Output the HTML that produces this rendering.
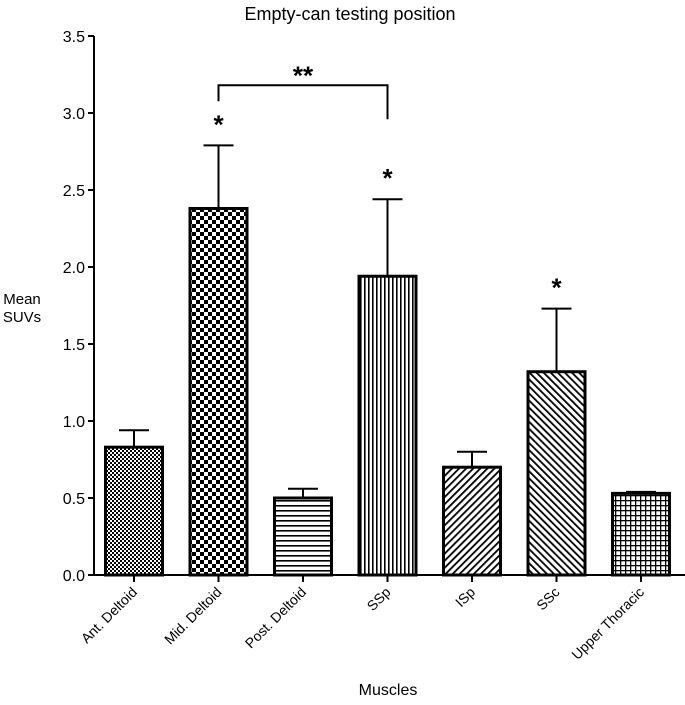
<!DOCTYPE html>
<html><head><meta charset="utf-8"><style>
body{margin:0;background:#fff;font-family:"Liberation Sans",sans-serif}
</style></head><body>
<svg id="c" width="685" height="700" xmlns="http://www.w3.org/2000/svg">
<defs>
<pattern id="p0" width="4" height="4" patternUnits="userSpaceOnUse"><rect width="4" height="4" fill="#fff"/><rect width="2" height="2" fill="#000"/><rect x="2" y="2" width="2" height="2" fill="#000"/></pattern>
<pattern id="p1" width="8" height="8" patternUnits="userSpaceOnUse"><rect width="8" height="8" fill="#fff"/><rect width="4" height="4" fill="#000"/><rect x="4" y="4" width="4" height="4" fill="#000"/></pattern>
<pattern id="p2" width="4" height="5" patternUnits="userSpaceOnUse"><rect width="4" height="5" fill="#fff"/><rect width="4" height="1.6" fill="#000"/></pattern>
<pattern id="p3" width="4" height="4" patternUnits="userSpaceOnUse"><rect width="4" height="4" fill="#fff"/><rect width="1.6" height="4" fill="#000"/></pattern>
<pattern id="p4" width="5" height="5" patternUnits="userSpaceOnUse" patternTransform="rotate(45)"><rect width="5" height="5" fill="#fff"/><rect width="1.8" height="5" fill="#000"/></pattern>
<pattern id="p5" width="5" height="5" patternUnits="userSpaceOnUse" patternTransform="rotate(-45)"><rect width="5" height="5" fill="#fff"/><rect width="1.8" height="5" fill="#000"/></pattern>
<pattern id="p6" width="5" height="5" patternUnits="userSpaceOnUse"><rect width="5" height="5" fill="#fff"/><rect width="5" height="1.3" fill="#000"/><rect width="1.3" height="5" fill="#000"/></pattern>
</defs>
<text x="350" y="20" font-size="18" text-anchor="middle">Empty-can testing position</text>
<text x="22" y="304" font-size="15" text-anchor="middle"><tspan x="22">Mean</tspan><tspan x="22" dy="18">SUVs</tspan></text>
<text x="388" y="695" font-size="16" text-anchor="middle">Muscles</text>
<g id="g"></g>
</svg>
<script>
const categories=["Ant. Deltoid","Mid. Deltoid","Post. Deltoid","SSp","ISp","SSc","Upper Thoracic"];
const means=[0.83,2.38,0.50,1.94,0.70,1.32,0.53];
const errors=[0.11,0.41,0.06,0.50,0.10,0.41,0.01];
const stars=["","*","","*","","*",""];
const yTicks=[0,0.5,1.0,1.5,2.0,2.5,3.0,3.5];
const NS="http://www.w3.org/2000/svg";
const g=document.getElementById('g');
const y0=575,y1=36,vmax=3.5,axX=94,c0=134,step=84.5,bw=57;
const Y=v=>y0-(v/vmax)*(y0-y1);
const X=i=>c0+i*step;
function mk(t,a){const e=document.createElementNS(NS,t);for(const k in a)e.setAttribute(k,a[k]);g.appendChild(e);return e;}
let e=mk('line',{x1:axX,y1:y1,x2:axX,y2:y0+1,stroke:'#000','stroke-width':2});

e=mk('line',{x1:axX-1,y1:y0,x2:685,y2:y0,stroke:'#000','stroke-width':2});

yTicks.forEach(v=>{
 e=mk('line',{x1:axX-6,y1:Y(v),x2:axX,y2:Y(v),stroke:'#000','stroke-width':2});
 
 e=mk('text',{x:axX-9,y:Y(v)+6,'font-size':16,'text-anchor':'end'});e.textContent=v.toFixed(1);
 
});
categories.forEach((c,i)=>{
 const x=X(i);
 e=mk('line',{x1:x,y1:Y(means[i]+errors[i]),x2:x,y2:Y(means[i]),stroke:'#000','stroke-width':2});
 
 e=mk('line',{x1:x-15,y1:Y(means[i]+errors[i]),x2:x+15,y2:Y(means[i]+errors[i]),stroke:'#000','stroke-width':2});
 
 e=mk('rect',{x:x-bw/2,y:Y(means[i]),width:bw,height:y0-Y(means[i]),fill:'url(#p'+i+')',stroke:'#000','stroke-width':3});
 
 e=mk('line',{x1:x,y1:y0,x2:x,y2:y0+7,stroke:'#000','stroke-width':2});
 
 e=mk('text',{x:x+4,y:y0+18,'font-size':14,'text-anchor':'end',transform:`rotate(-45 ${x+4} ${y0+18})`});e.textContent=c;
 
 if(stars[i]){e=mk('text',{x:x,y:Y(means[i]+errors[i])+8,'font-size':26,'font-weight':'bold','text-anchor':'middle'});e.textContent=stars[i];
 
 e.setAttribute('dy','-20');}
});
const bY=Y(3.18);
e=mk('path',{d:`M${X(1)} ${bY+16} V${bY} H${X(3)} V${bY+34}`,fill:'none',stroke:'#000','stroke-width':2});

e=mk('text',{x:(X(1)+X(3))/2,y:bY-1,'font-size':26,'font-weight':'bold','text-anchor':'middle'});e.textContent="**";

</script>
</body></html>
